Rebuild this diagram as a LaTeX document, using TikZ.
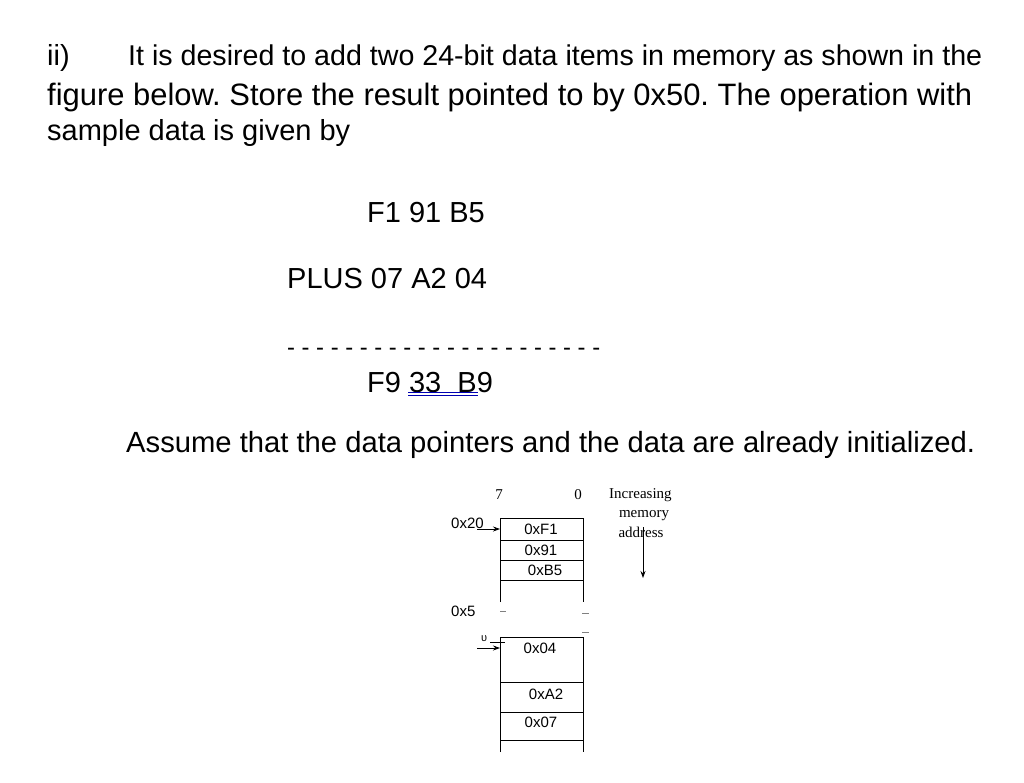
\documentclass[tikz,border=0pt]{standalone}
\usepackage{fontspec}
\usetikzlibrary{arrows.meta}
\setmainfont{Liberation Sans}
\newfontfamily\tms{Liberation Serif}
\frenchspacing
\begin{document}
\begin{tikzpicture}[x=1pt,y=-1pt,
  big/.style={anchor=base west,inner sep=0pt,font=\fontsize{29}{33}\selectfont},
  lab/.style={inner sep=0pt,font=\fontsize{15}{17}\selectfont},
  ser/.style={inner sep=0pt,font=\tms\fontsize{15}{15}\selectfont},
  box/.style={line width=0.8pt},
  arr/.style={line width=0.8pt,-{Stealth[length=7pt,width=5pt]}}]
\useasboundingbox (0,0) rectangle (1024,782);
\node[big] (t0) at (47,65) {ii)};
\node[big] (t1) at (128,65) {\resizebox{854pt}{!}{It is desired to add two 24-bit data items in memory as shown in the}};
\node[big] (t2) at (47,105) {\resizebox{925pt}{!}{figure below. Store the result pointed to by 0x50. The operation with}};
\node[big] (t3) at (47,140) {sample data is given by};
\node[big] (s1) at (367,222) {F1 91 B5};
\node[big] (s2) at (287,288) {PLUS 07 A2 04};
\node[big] (s3) at (287,355) {\resizebox{313pt}{!}{- - - - - - - - - - - - - - - - - - - - - -}};
\node[big] (s4) at (367,392) {F9 33\ \ B9};
\draw[blue!70!black,line width=0.6pt] (408,392.5) -- (478,392.5) (408,395.5) -- (478,395.5);
\node[big] (t4) at (126,452) {\resizebox{849pt}{!}{Assume that the data pointers and the data are already initialized.}};
% upper memory box
\draw[box] (500,602) -- (500,518) -- (583,518) -- (583,602);
\draw[box] (500,540) -- (583,540) (500,560) -- (583,560) (500,580) -- (583,580);
\node[lab] (m1) at (541,529) {0xF1};
\node[lab] (m2) at (541,550) {0x91};
\node[lab] (m3) at (545,570) {0xB5};
\node[ser] (b7) at (499,495) {7};
\node[ser] (b0) at (578,495) {0};
\node[ser,anchor=west] (inc) at (609,495) {Increasing};
\node[ser] (mem) at (644,516) {memory};
\node[ser] (adr) at (641,532) {address};
\coordinate (as) at (643,527);
\coordinate (ae) at (643,578);
\draw[arr] (as) -- (ae);
\node[lab,anchor=base west] (p20) at (451,528) {0x20};
\coordinate (p20s) at (477,529);
\coordinate (p20e) at (500,529);
\draw[arr] (p20s) -- (p20e);
\node[lab,anchor=base west] (p5) at (451,616) {0x5};
\draw[gray,line width=0.5pt] (500,611) -- (506,611) (582,613) -- (589,613) (582,632) -- (589,632);
% lower memory box
\draw[box] (500,752) -- (500,637) -- (583,637) -- (583,752);
\draw[box] (500,682) -- (583,682) (500,712) -- (583,712) (500,740) -- (583,740);
\node[lab] (n1) at (540,648) {0x04};
\node[lab] (n2) at (546,694) {0xA2};
\node[lab] (n3) at (541,722) {0x07};
\node[lab,font=\fontsize{11}{11}\selectfont] (u) at (484,639) {υ};
\draw[line width=0.5pt] (490,642) -- (505,642);
\coordinate (p0s) at (477,648);
\coordinate (p0e) at (500,648);
\draw[arr] (p0s) -- (p0e);
\end{tikzpicture}
\end{document}
